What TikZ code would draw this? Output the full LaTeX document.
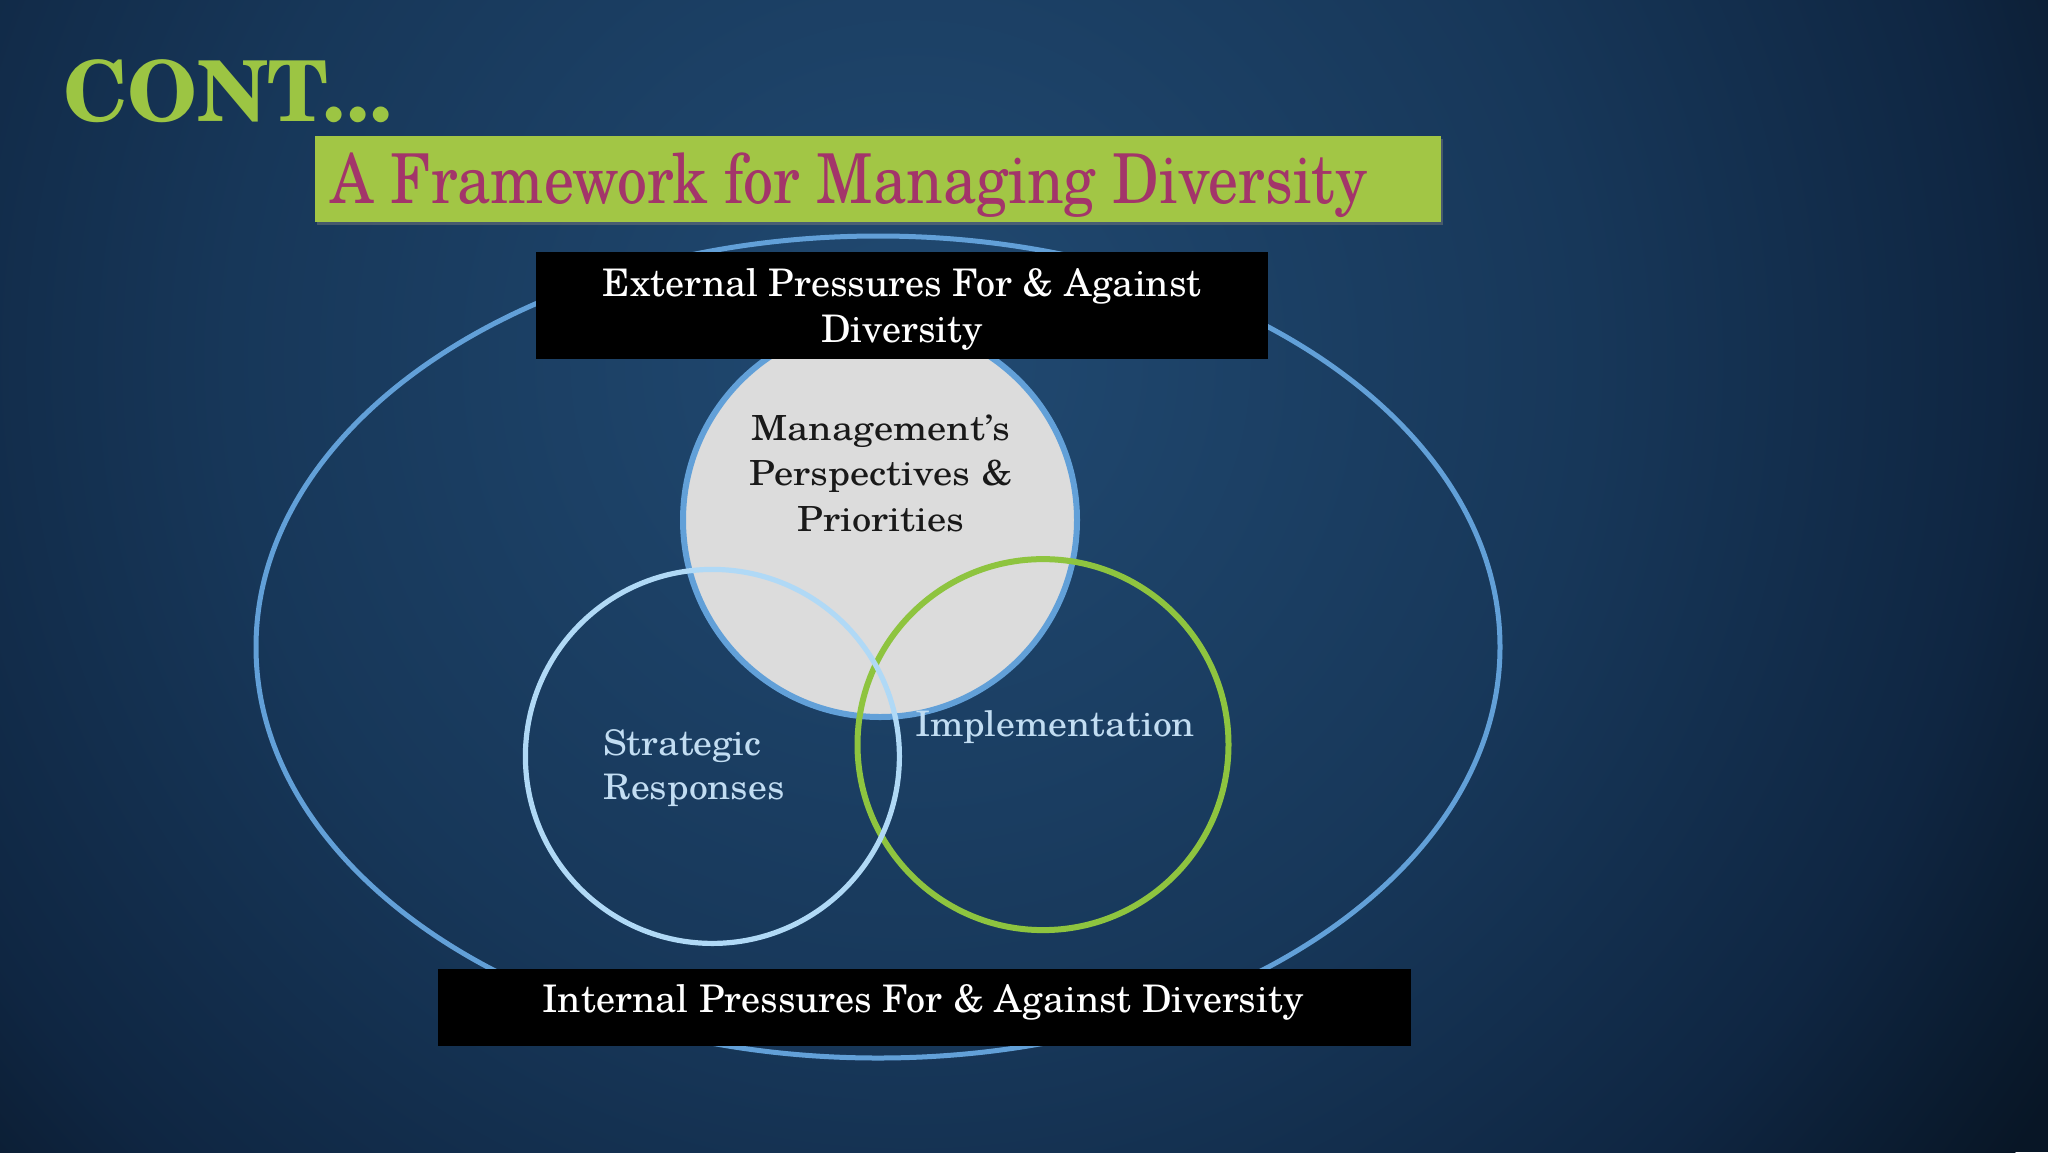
\documentclass[tikz,border=0pt]{standalone}
\usepackage{fontspec}
\setmainfont{texgyreschola}[Extension=.otf, UprightFont=*-regular, BoldFont=*-bold, ItalicFont=*-italic, BoldItalicFont=*-bolditalic]
\newfontfamily\bannerfont{texgyreschola}[Extension=.otf, UprightFont=*-regular, FakeStretch=0.87]
\newfontfamily\diskfont{texgyreschola}[Extension=.otf, UprightFont=*-regular, FakeStretch=1.11]
\newfontfamily\softfont{texgyreschola}[Extension=.otf, UprightFont=*-regular, FakeStretch=1.07]
\usetikzlibrary{shapes.geometric,shadows}
\definecolor{bgin}{HTML}{214A72}
\definecolor{bgmid}{HTML}{173759}
\definecolor{bgdark}{HTML}{0F2642}
\definecolor{bgout}{HTML}{081626}
\definecolor{titlegreen}{HTML}{9CC543}
\definecolor{bannergreen}{HTML}{A2C645}
\definecolor{bannertext}{HTML}{A3356A}
\definecolor{ringblue}{HTML}{62A0D8}
\definecolor{paleblue}{HTML}{B0D9F6}
\definecolor{limegreen}{HTML}{8EC43F}
\definecolor{disk}{HTML}{DCDCDC}
\definecolor{softtext}{HTML}{C2DDF2}
\pgfdeclareradialshading{slidebg}{\pgfpoint{0bp}{0bp}}{color(0bp)=(bgin); color(12.5bp)=(bgmid); color(20bp)=(bgdark); color(25bp)=(bgout); color(50bp)=(bgout)}
\tikzset{
  blackbox/.style={fill=black, inner sep=0pt, outer sep=0pt, anchor=north west},
  boxtext/.style={text=white, inner sep=0pt, anchor=base, font=\fontsize{19}{22}\selectfont},
  disktext/.style={text=black!90, inner sep=0pt, anchor=base, font=\diskfont\fontsize{17.3}{20}\selectfont},
  softlabel/.style={text=softtext, inner sep=0pt, anchor=base west, font=\softfont\fontsize{17.6}{20}\selectfont},
  ring/.style={circle, inner sep=0pt, outer sep=0pt}
}
\begin{document}
\begin{tikzpicture}[x=1pt,y=-1pt]
\useasboundingbox (0,0) rectangle (1024,576);
% background
\begin{scope}
\clip (0,0) rectangle (1024,576);
\fill[bgout] (0,0) rectangle (1024,576);
\shade[shading=slidebg] (455,180) circle[radius=680pt];
\end{scope}
% title
\node[anchor=base west, inner sep=0pt, text=titlegreen, font=\bfseries\fontsize{42}{42}\selectfont] (title) at (31.4,60.7) {CONT...};
% banner
\node[fill=bannergreen, anchor=north west, inner sep=0pt, minimum width=562.9pt, minimum height=43.1pt,
      drop shadow={shadow xshift=0.8pt, shadow yshift=-1.2pt, opacity=0.45}] (banner) at (157.4,67.9) {};
\node[anchor=base west, inner sep=0pt, text=bannertext, font=\bannerfont\fontsize{34.4}{36}\selectfont] (bannerlabel) at (165.2,101.8) {A Framework for Managing Diversity};
% outer ellipse
\node[ellipse, draw=ringblue, line width=2.5pt, inner sep=0pt, outer sep=0pt, minimum width=622pt, minimum height=411pt] (outer) at (439,323.5) {};
% management disk
\node[ring, fill=disk, draw=ringblue, line width=3pt, minimum size=197pt] (mgmt) at (440,260) {};
% implementation and strategic circles
\node[ring, draw=limegreen, line width=3pt, minimum size=185.5pt] (impl) at (521.5,372.3) {};
\node[ring, draw=paleblue, line width=2.6pt, minimum size=187pt] (strat) at (356.2,378.2) {};
% boxes
\node[blackbox, minimum width=366.3pt, minimum height=53.6pt] (ext) at (267.8,126) {};
\node[blackbox, minimum width=486.5pt, minimum height=38.3pt] (int) at (218.8,484.7) {};
% box texts
\node[boxtext] (ext1) at (451,148.3) {External Pressures For \& Against};
\node[boxtext] (ext2) at (451,171.3) {Diversity};
\node[boxtext] (int1) at (461.5,506) {Internal Pressures For \& Against Diversity};
% disk text
\node[disktext] (mgmt1) at (440.5,220) {Management’s};
\node[disktext] (mgmt2) at (440.5,242.6) {Perspectives \&};
\node[disktext] (mgmt3) at (440.5,265.8) {Priorities};
% soft labels
\node[softlabel] (strat1) at (301.5,377.6) {Strategic};
\node[softlabel] (strat2) at (301.5,399.6) {Responses};
\node[softlabel] (impl1) at (457.5,368.4) {Implementation};
\end{tikzpicture}
\end{document}
